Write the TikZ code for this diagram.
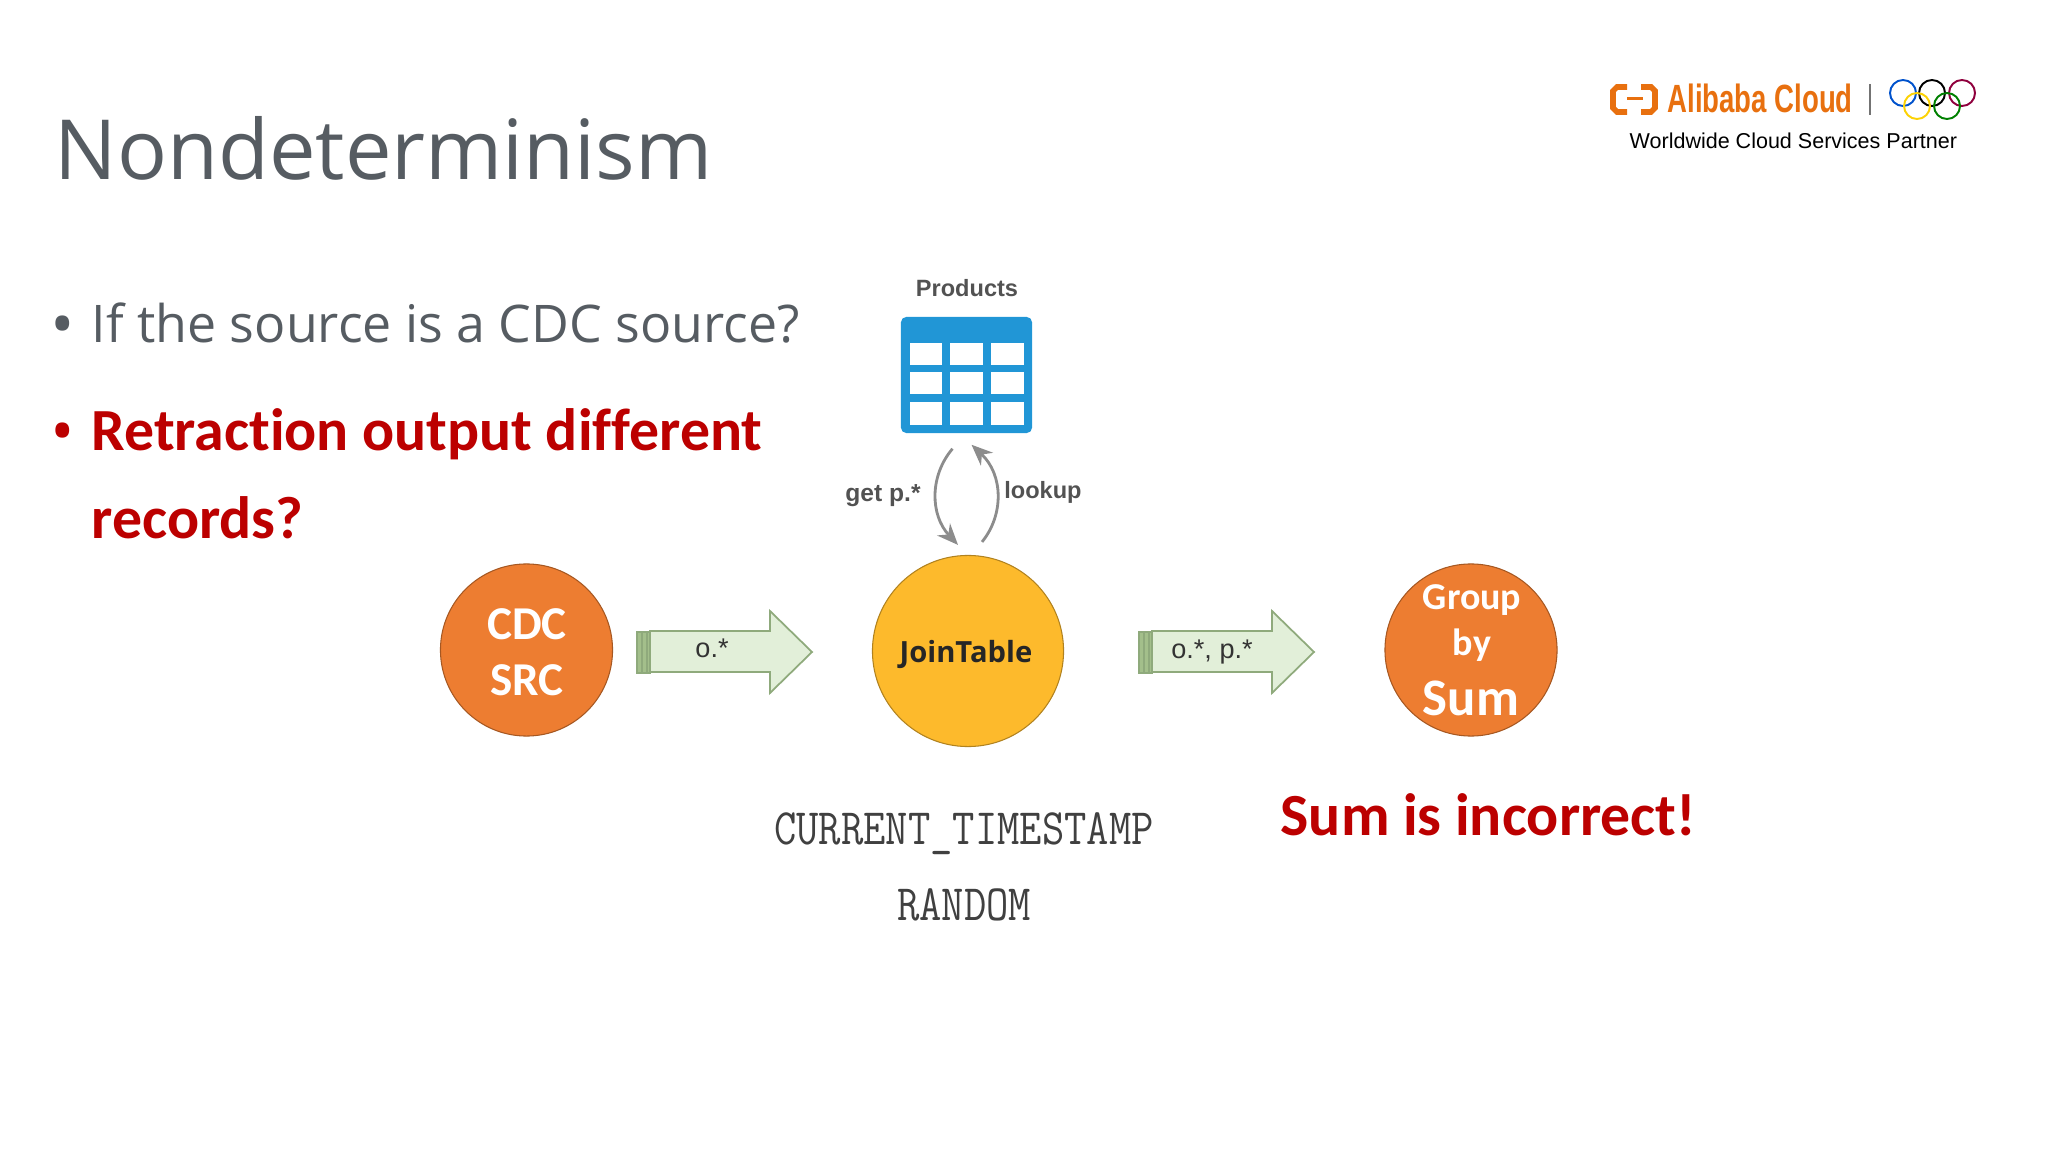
\documentclass[tikz,border=0pt]{standalone}
\usepackage{fontspec}
\setmainfont{Open Sans}
\newfontfamily\calfont[Ligatures=NoCommon]{Carlito}
\newfontfamily\helvfont{Liberation Sans}
\usetikzlibrary{arrows.meta}
\definecolor{slategrey}{HTML}{565C62}
\definecolor{darkred}{HTML}{BC0000}
\definecolor{circleorange}{HTML}{ED7D31}
\definecolor{joinyellow}{HTML}{FDBA2C}
\definecolor{tableblue}{HTML}{2196D6}
\definecolor{arrowfill}{HTML}{E2EFD9}
\definecolor{arrowline}{HTML}{8FAA7C}
\definecolor{arrowband}{HTML}{A3BF8B}
\definecolor{logoorange}{HTML}{E8700F}
\tikzset{
txt/.style={inner sep=0pt, anchor=base west},
title/.style={txt, text=slategrey, font=\fontsize{23.6}{28}\selectfont},
bodytext/.style={txt, text=slategrey, font=\fontsize{14.75}{17}\selectfont},
redtext/.style={txt, text=darkred, font=\calfont\bfseries\fontsize{17}{20}\selectfont},
opnode/.style={circle, draw=#1!70!black, line width=0.3pt, inner sep=0pt},
wtext/.style={inner sep=0pt, text=white, font=\calfont\bfseries\fontsize{#1}{#1}\selectfont},
smalltext/.style={inner sep=0pt, text=black!68, font=\helvfont\bfseries\fontsize{#1}{8}\selectfont},
arrowtext/.style={inner sep=0pt, anchor=base, text=black!80, font=\helvfont\fontsize{7.7}{8}\selectfont},
stamp/.style={inner sep=0pt, anchor=base, text=black!75, font=\ttfamily\fontsize{14.5}{16}\selectfont, xscale=0.85, transform shape},
flowline/.style={draw=black!45, line width=0.8pt, -{Stealth[length=6pt, width=5pt]}},
ring/.style={line width=0.55pt},
greenarrow/.pic={
  \draw[draw=arrowline, fill=arrowband, line width=0.5pt] (0,-20) rectangle (13,21);
  \draw[draw=arrowline, line width=0.4pt] (5,-20) -- (5,21);
  \draw[draw=arrowline, line width=0.4pt] (10,-20) -- (10,21);
  \draw[draw=arrowline, fill=arrowfill, line width=0.5pt] (13,-21) -- (133,-21) -- (133,-41) -- (175,0) -- (133,41) -- (133,20) -- (13,20) -- cycle;
  },
tablecells/.pic={
  \fill[white] (910,343) rectangle (942,365);
  \fill[white] (950,343) rectangle (983,365);
  \fill[white] (991,343) rectangle (1024,365);
  \fill[white] (910,372) rectangle (942,394);
  \fill[white] (950,372) rectangle (983,394);
  \fill[white] (991,372) rectangle (1024,394);
  \fill[white] (910,402) rectangle (942,425);
  \fill[white] (950,402) rectangle (983,425);
  \fill[white] (991,402) rectangle (1024,425);
  }
}
\begin{document}
\begin{tikzpicture}[x=0.01cm, y=-0.01cm]
\useasboundingbox (0,0) rectangle (2048,1152);
\node[title] (heading) at (54,180) {Nondeterminism};
\node[bodytext, font=\bfseries\fontsize{14}{16}\selectfont] (bulleta) at (53,342) {•};
\node[bodytext] (linea) at (91,343) {If the source is a CDC source?};
\node[redtext, font=\bfseries\fontsize{14}{16}\selectfont] (bulletb) at (53,449) {•};
\node[redtext] (lineb) at (91,451) {Retraction output different};
\node[redtext] (linec) at (91,538) {records?};

\fill[logoorange] (1627,97.5) rectangle (1643,100.5);
\draw[logoorange, line width=1.6pt] (1627,87) -- (1617,87) -- (1613,91) -- (1613,108) -- (1617,112) -- (1627,112);
\draw[logoorange, line width=1.6pt] (1641,87) -- (1651,87) -- (1655,91) -- (1655,108) -- (1651,112) -- (1641,112);
\node[inner sep=0pt, anchor=base west, text=logoorange, font=\helvfont\bfseries\fontsize{11.2}{12}\selectfont, xscale=0.7, transform shape] (logotext) at (1667,113) {Alibaba Cloud};
\draw[black!55, line width=0.4pt] (1870,84) -- (1870,115);
\draw[ring, draw=blue!60!cyan!80!black] (1903,93) circle [radius=13];
\draw[ring, draw=black] (1932,93) circle [radius=13];
\draw[ring, draw=red!70!blue!80!black] (1962,93) circle [radius=13];
\draw[ring, draw=yellow!70!orange] (1917,106) circle [radius=13];
\draw[ring, draw=green!50!black] (1947,106) circle [radius=13];
\node[inner sep=0pt, anchor=base west, font=\helvfont\fontsize{6.12}{7}\selectfont] (partner) at (1629,149) {Worldwide Cloud Services Partner};

\node[opnode=circleorange, fill=circleorange, minimum size=1.72cm] (cdc) at (526.5,650) {};
\node[wtext=13.4] (cdca) at (527,624) {CDC};
\node[wtext=13.4] (cdcb) at (527,680) {SRC};
\node[opnode=joinyellow, fill=joinyellow, minimum size=1.91cm] (join) at (968,651) {};
\node[inner sep=0pt, font=\bfseries\fontsize{8.3}{9}\selectfont, text=black!85] (jointext) at (966,654) {JoinTable};
\node[opnode=circleorange, fill=circleorange, minimum size=1.72cm] (group) at (1471,650) {};
\node[wtext=10.8] (groupa) at (1472,600) {Group};
\node[wtext=10.8] (groupb) at (1472,645) {by};
\node[wtext=15] (groupc) at (1471,698) {Sum};

\node[rectangle, fill=tableblue, rounded corners=1.5pt, minimum width=1.31cm, minimum height=1.16cm, inner sep=0pt] (table) at (966.5,375) {};
\pic at (0,0) {tablecells};
\node[smalltext=6.7] (products) at (967,288) {Products};
\draw[flowline] ([shift={(-14,15)}]table.south) .. controls +(-23,27) and +(-28,-30) .. ([shift={(-10,-10)}]join.north);
\draw[flowline] ([shift={(14,-13)}]join.north) .. controls +(22,-27) and +(32,30) .. ([shift={(5,11)}]table.south);
\node[smalltext=7] (getp) at (883,496) {get p.*};
\node[smalltext=6.7] (lookup) at (1043,492) {lookup};

\pic at (637,652) {greenarrow};
\node[arrowtext] (oarrow) at (712,657) {o.*};
\pic at (1139,652) {greenarrow};
\node[arrowtext] (oparrow) at (1212,658) {o.*, p.*};

\node[stamp] (stampa) at (964,844) {CURRENT\_TIMESTAMP};
\node[stamp] (stampb) at (964,920) {RANDOM};
\node[redtext] (wrong) at (1280,835) {Sum is incorrect!};
\end{tikzpicture}
\end{document}
